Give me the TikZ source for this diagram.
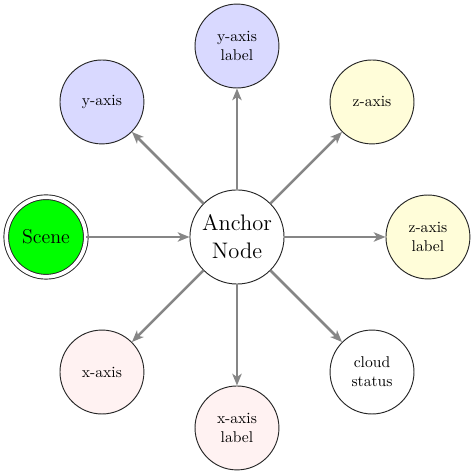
\documentclass[tikz,border=0pt]{standalone}
\usetikzlibrary{arrows.meta}
\begin{document}
\begin{tikzpicture}[x=1pt,y=1pt,
  outer/.style={circle,draw=black!85,line width=0.6pt,minimum size=53.8pt,inner sep=1pt,align=center,font=\normalsize},
  anchornode/.style={circle,draw=black!85,line width=0.6pt,minimum size=60.3pt,inner sep=1pt,align=center,font=\Large},
  scenenode/.style={circle,draw=black!85,double,double distance=2.4pt,line width=0.6pt,fill=green,minimum size=51pt,inner sep=1pt,font=\fontsize{12.8}{15}\selectfont},
  conn/.style={draw=gray!95,line width=1.6pt,-{Stealth[length=7.5pt,width=6pt,inset=2pt]}}]
\useasboundingbox (-151.9,-153.2) rectangle (151.9,151.9);
\node[anchornode] (anc) at (0,0) {Anchor\\Node};
\node[outer,fill=blue!15] (yl) at (90:122.4) {y-axis\\label};
\node[outer,fill=blue!15] (ya) at (135:122.4) {y-axis};
\node[outer,fill=yellow!15] (za) at (45:122.4) {z-axis};
\node[outer,fill=yellow!15] (zl) at (0:122.4) {z-axis\\label};
\node[outer,fill=red!5] (xa) at (225:122.4) {x-axis};
\node[outer,fill=red!5] (xl) at (270:122.4) {x-axis\\label};
\node[outer] (cs) at (315:122.4) {cloud\\status};
\node[scenenode] (sc) at (180:122.4) {Scene};
\draw[conn] (sc) -- (anc);
\draw[conn] (anc) -- (yl);
\draw[conn] (anc) -- (ya);
\draw[conn] (anc) -- (za);
\draw[conn] (anc) -- (zl);
\draw[conn] (anc) -- (xa);
\draw[conn] (anc) -- (xl);
\draw[conn] (anc) -- (cs);
\end{tikzpicture}
\end{document}
